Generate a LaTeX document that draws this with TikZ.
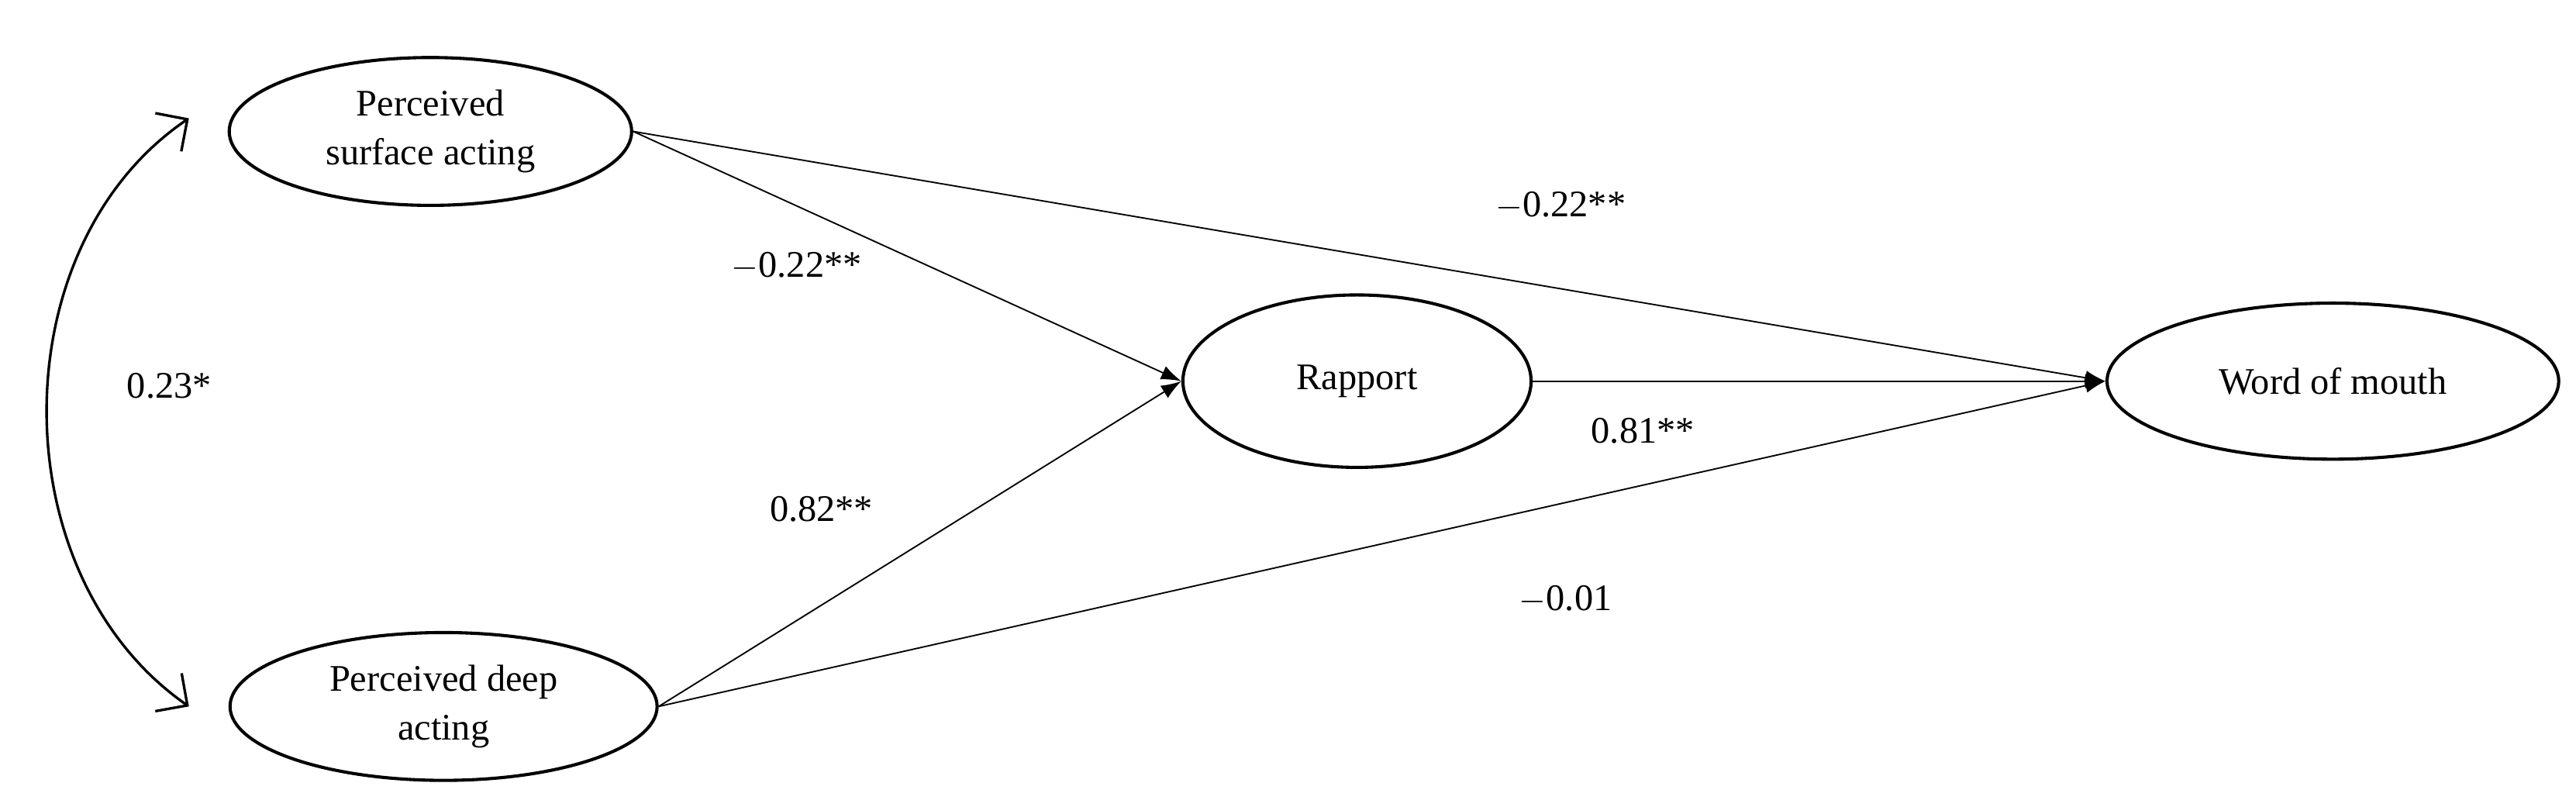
\documentclass[tikz,border=0pt]{standalone}
\usepackage{fontspec}
\setmainfont{Liberation Serif}
\usetikzlibrary{arrows.meta,shapes.geometric}
\begin{document}
\begin{tikzpicture}[x=0.02cm,y=-0.02cm,
  lat/.style={draw,ellipse,line width=1.1pt,align=center,font=\fontsize{13}{17}\selectfont,inner sep=0pt},
  path/.style={line width=0.5pt,-{Latex[length=7pt,width=5pt]}},
  lab/.style={font=\fontsize{13}{16}\selectfont}]
\useasboundingbox (0,0) rectangle (1568,491);
\node[lat,minimum width=245\pgflinewidth*0+4.9cm,minimum height=1.8cm] (sa) at (262,80) {Perceived\\surface acting};
\node[lat,minimum width=5.2cm,minimum height=1.8cm] (da) at (270,430) {Perceived deep\\acting};
\node[lat,minimum width=4.24cm,minimum height=2.1cm] (ra) at (826,232) {Rapport};
\node[lat,minimum width=5.5cm,minimum height=1.9cm] (wm) at (1420,232) {Word of mouth};
\coordinate (ct) at (115,72);
\coordinate (cb) at (115,430);
\draw[line width=0.9pt,{Straight Barb[length=8pt]}-{Straight Barb[length=8pt]}] (ct) .. controls (0,150) and (0,350) .. (cb);
\draw[path] (sa.east) -- (ra.west);
\draw[path] (da.east) -- (ra.west);
\draw[path] (sa.east) -- (wm.west);
\draw[path] (da.east) -- (wm.west);
\draw[path] (ra.east) -- (wm.west);
\node[lab] (l1) at (485,162) {$-$0.22**};
\node[lab] (l2) at (500,310) {0.82**};
\node[lab] (l3) at (950,125) {$-$0.22**};
\node[lab] (l4) at (1000,262) {0.81**};
\node[lab] (l5) at (953,365) {$-$0.01};
\node[lab] (l6) at (103,235) {0.23*};
\end{tikzpicture}
\end{document}
